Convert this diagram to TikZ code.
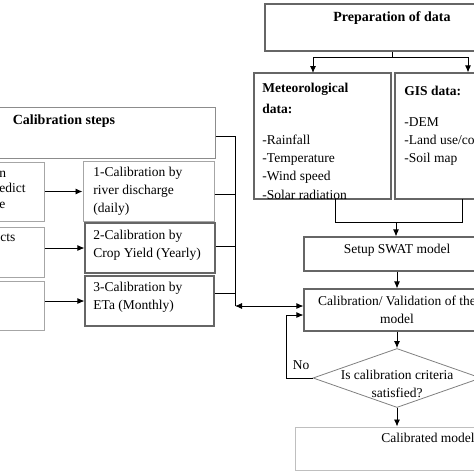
\documentclass[tikz,border=0pt]{standalone}
\usepackage{fontspec}
\setmainfont{Liberation Serif}
\usetikzlibrary{arrows.meta,shapes.geometric}

\tikzset{
  box/.style={draw=black!60,line width=1.1pt,inner sep=0pt},
  lbox/.style={draw=black!35,line width=1pt,inner sep=0pt},
  txt/.style={font=\fontsize{13.5}{18}\selectfont,inner sep=0pt,align=left},
  head/.style={font=\fontsize{14}{18}\selectfont\bfseries,inner sep=0pt},
}

\begin{document}
\begin{tikzpicture}[x=1pt,y=-1pt,line width=0.9pt,>={Latex[length=7pt,width=6pt]}]
          \useasboundingbox (0,0) rectangle (474,474);
          \clip (0,0) rectangle (474,474);

          % data preparation
          \node[box,minimum width=254,minimum height=47] (prep) at (392,27.5) {};
          \node[head] (preptxt) at (392,18) {Preparation of data};
          \node[box,minimum width=137,minimum height=126] (met) at (322.5,136) {};
          \node[box,minimum width=146,minimum height=126] (gis) at (468,136) {};
          \begin{scope}
            \clip (met.north west) rectangle (met.south east);
            \node[txt,anchor=north west] (mettxt) at (262,82.5) {\textbf{Meteorological}\\[3pt]\textbf{data:}\\[13pt]-Rainfall\\-Temperature\\-Wind speed\\[1pt]-Solar radiation};
          \end{scope}
          \node[txt,anchor=north west] (gistxt) at (404,86) {\textbf{GIS data:}\\[13pt]-DEM\\-Land use/cover\\-Soil map};

          % model
          \node[box,minimum width=186,minimum height=34] (setup) at (397,254) {};
          \node[txt] (setuptxt) at (397,250) {Setup SWAT model};
          \node[box,minimum width=186,minimum height=42] (calval) at (397,310) {};
          \node[txt,align=center] (calvaltxt) at (397,310) {Calibration/ Validation of the\\model};
          \node[draw=black!50,line width=0.8pt,diamond,inner sep=0pt,minimum width=168,minimum height=59] (dia) at (397,378) {};
          \node[txt,align=center] (diatxt) at (397,384) {Is calibration criteria\\satisfied?};
          \node[lbox,draw=black!25,minimum width=266,minimum height=43] (calib) at (428,448.5) {};
          \node[txt] (calibtxt) at (428,438) {Calibrated model};
          \node[txt] (no) at (301,365) {No};

          % calibration steps
          \node[draw=black!45,line width=1pt,minimum width=275,minimum height=51] (steps) at (77.5,132.5) {};
          \node[head] (stepstxt) at (64,121) {Calibration steps};
          \node[lbox,minimum width=131,minimum height=60] (c1) at (148.5,191) {};
          \node[txt,anchor=west] (c1txt) at (93,191) {1-Calibration by\\river discharge\\(daily)};
          \node[box,minimum width=130,minimum height=50] (c2) at (150,248) {};
          \node[txt,anchor=west] (c2txt) at (93,245) {2-Calibration by\\Crop Yield (Yearly)};
          \node[box,minimum width=129,minimum height=50] (c3) at (149.5,301) {};
          \node[txt,anchor=west] (c3txt) at (93,297) {3-Calibration by\\ETa (Monthly)};

          \node[lbox,minimum width=144,minimum height=59] (ina) at (-28,191.5) {};
          \node[txt,font=\fontsize{13.5}{15.5}\selectfont,anchor=west] (inatxt) at (-1,189.5) {n\\edict\\e};
          \node[lbox,minimum width=144,minimum height=50] (inb) at (-28,252) {};
          \node[txt,anchor=west] (inbtxt) at (0,238) {cts};
          \node[lbox,minimum width=144,minimum height=49] (inc) at (-28,305.5) {};

          % connectors
          \coordinate (split) at (392,57);
          \coordinate (mtop) at (313,73);
          \coordinate (mbot) at (335,199);
          \coordinate (gbot) at (462,199);
          \coordinate (join) at (396,222);
          \draw (prep.south) -- (split);
          \draw[->] (split) -| (mtop);
          \draw[->] (split) -| (gis.north);
          \draw (mbot) |- (gbot |- join) -- (gbot);
          \draw[->] (join) -- (join |- setup.north);
          \draw[->] (setup.south) -- (calval.north);
          \draw[->] (calval.south) -- (dia.north);
          \draw[->] (dia.south) -- (dia.south |- calib.north);
          \coordinate (back) at (286,315);
          \draw[->] (dia.west) -| (back) -- (back -| calval.west);

          \draw[->] (ina.east) -- (ina.east -| c1.west);
          \draw[->] (c2.west -| inb.east) -- (c2.west);
          \draw[->] (c3.west -| inc.east) -- (c3.west);
          \coordinate (bus) at (235,306);
          \draw ([yshift=-4pt]steps.east) -| (bus);
          \draw ([yshift=-3pt]c1.east) -- ([yshift=-3pt]c1.east -| bus);
          \draw ([yshift=2pt]c2.east) -- ([yshift=2pt]c2.east -| bus);
          \draw ([yshift=8pt]c3.east) -- ([yshift=8pt]c3.east -| bus);
          \draw[<->] (bus) -- (bus -| calval.west);
        \end{tikzpicture}
\end{document}
